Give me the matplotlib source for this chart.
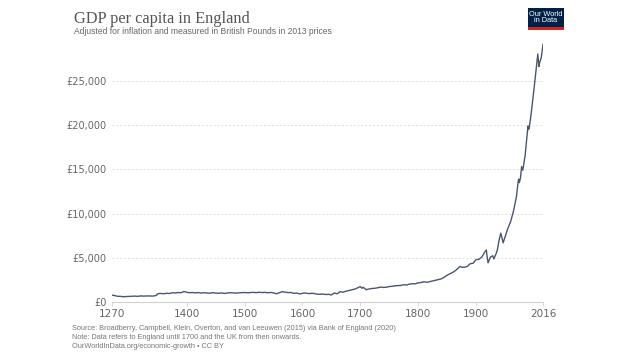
import matplotlib
matplotlib.use("Agg")
import matplotlib.pyplot as plt
from matplotlib.patches import Rectangle
from matplotlib.ticker import FuncFormatter

years = [1270, 1275, 1280, 1285, 1290, 1295, 1300, 1305, 1310, 1315, 1320, 1325, 1330, 1335,
         1340, 1345, 1348, 1350, 1355, 1360, 1365, 1370, 1375, 1380, 1385, 1390, 1395, 1400,
         1405, 1410, 1415, 1420, 1425, 1430, 1435, 1440, 1445, 1450, 1455, 1460, 1465, 1470,
         1475, 1480, 1485, 1490, 1495, 1500, 1505, 1510, 1515, 1520, 1525, 1530, 1535, 1540,
         1545, 1550, 1555, 1560, 1565, 1570, 1575, 1580, 1585, 1590, 1595, 1600, 1605, 1610,
         1615, 1620, 1625, 1630, 1635, 1640, 1645, 1650, 1655, 1660, 1665, 1670, 1675, 1680,
         1685, 1690, 1695, 1700, 1703, 1705, 1710, 1715, 1720, 1725, 1730, 1735, 1740, 1745,
         1750, 1755, 1760, 1765, 1770, 1775, 1780, 1785, 1790, 1795, 1800, 1805, 1810, 1815,
         1820, 1825, 1830, 1835, 1840, 1845, 1850, 1855, 1860, 1865, 1870, 1873, 1875, 1880,
         1885, 1890, 1895, 1900, 1905, 1910, 1913, 1915, 1918, 1919, 1921, 1925, 1929, 1931,
         1935, 1937, 1940, 1943, 1945, 1947, 1950, 1955, 1960, 1965, 1970, 1973, 1974, 1975,
         1977, 1979, 1981, 1985, 1988, 1990, 1991, 1992, 1995, 2000, 2005, 2007, 2009, 2010,
         2013, 2016]
gdp = [820, 760, 680, 670, 630, 650, 680, 690, 700, 670, 720, 700, 710, 720,
       700, 740, 820, 980, 1000, 960, 1020, 990, 1080, 1050, 1100, 1080, 1220, 1120,
       1080, 1110, 1060, 1100, 1040, 1080, 1050, 1020, 1090, 1040, 1020, 1060, 1000, 1050,
       1080, 1060, 1040, 1070, 1090, 1100, 1080, 1100, 1120, 1090, 1130, 1100, 1120, 1080,
       1110, 1060, 960, 1080, 1200, 1150, 1090, 1110, 1000, 1050, 940, 1010, 1060, 980,
       1010, 1000, 920, 900, 930, 880, 900, 830, 1050, 960, 1200, 1140, 1250, 1320,
       1400, 1480, 1620, 1780, 1580, 1700, 1420, 1500, 1560, 1580, 1640, 1720, 1680, 1700,
       1780, 1800, 1860, 1880, 1900, 1980, 1950, 2050, 2100, 2080, 2200, 2230, 2320, 2250,
       2330, 2400, 2480, 2580, 2640, 2820, 3050, 3220, 3380, 3600, 3900, 4050, 3960, 3950,
       4050, 4350, 4400, 4800, 4850, 5100, 5400, 5650, 5900, 5300, 4450, 5100, 5250, 4900,
       5500, 5900, 7000, 7800, 7300, 6700, 7300, 8300, 9100, 10300, 11900, 13600, 13900, 13500,
       14000, 15300, 14900, 16500, 18600, 19900, 19500, 19600, 21000, 23800, 26800, 28000, 26600, 27000,
       27600, 29100]

xticks = [1270, 1400, 1500, 1600, 1700, 1800, 1900, 2016]
yticks = [0, 5000, 10000, 15000, 20000, 25000]

title = "GDP per capita in England"
subtitle = "Adjusted for inflation and measured in British Pounds in 2013 prices"
footer = ["Source: Broadberry, Campbell, Klein, Overton, and van Leeuwen (2015) via Bank of England (2020)",
          "Note: Data refers to England until 1700 and the UK from then onwards.",
          "OurWorldInData.org/economic-growth • CC BY"]

W, H = 638, 359
fig = plt.figure(figsize=(W / 100, H / 100), dpi=100)
fig.patch.set_facecolor("white")

left, right, top, bottom = 111.7, 543, 40, 302.3
ax = fig.add_axes([left / W, 1 - bottom / H, (right - left) / W, (bottom - top) / H])
ax.plot(years, gdp, color="#4a5670", lw=1.0, solid_joinstyle="round")
ax.set_xlim(1270, 2016)
ax.set_ylim(0, 29590)

for s in ["top", "right", "left"]:
    ax.spines[s].set_visible(False)
ax.spines["bottom"].set_color("#d0d0d0")
ax.spines["bottom"].set_linewidth(0.8)

ax.set_yticks(yticks)
ax.yaxis.set_major_formatter(FuncFormatter(lambda v, p: "£" + format(int(v), ",")))
ax.set_xticks(xticks)
ax.set_xticklabels([str(x) for x in xticks])
ax.tick_params(axis="y", length=0, pad=3.5, labelsize=7, labelcolor="#666666")
ax.tick_params(axis="x", length=3, width=0.6, color="#d0d0d0", pad=2, labelsize=7.5, labelcolor="#666666")
for y in yticks[1:]:
    ax.axhline(y, color="#e0e0e0", lw=0.7, ls=(0, (2, 2)), zorder=0)

fig.text(74 / W, 1 - 23 / H, title, family="Liberation Serif", fontsize=11.8, color="#555555")
fig.text(74 / W, 1 - 34 / H, subtitle, family="Liberation Sans", fontsize=6.15, color="#666666")

for i, line in enumerate(footer):
    fig.text(72 / W, 1 - (330 + 9 * i) / H, line, family="Liberation Sans", fontsize=5.3, color="#777777")

# logo
lx0, ly0, lw_, lh_ = 528, 8, 36, 19
fig.patches.append(Rectangle((lx0 / W, 1 - (ly0 + lh_) / H), lw_ / W, lh_ / H,
                             transform=fig.transFigure, facecolor="#002147", edgecolor="none"))
fig.patches.append(Rectangle((lx0 / W, 1 - (ly0 + lh_ + 2.5) / H), lw_ / W, 2.5 / H,
                             transform=fig.transFigure, facecolor="#ce261e", edgecolor="none"))
fig.text((lx0 + lw_ / 2) / W, 1 - (ly0 + lh_ / 2) / H, "Our World\nin Data", ha="center", va="center",
         family="Liberation Sans", fontsize=5.3, color="white", linespacing=0.95)

fig.savefig("out.png", dpi=100, facecolor="white")
